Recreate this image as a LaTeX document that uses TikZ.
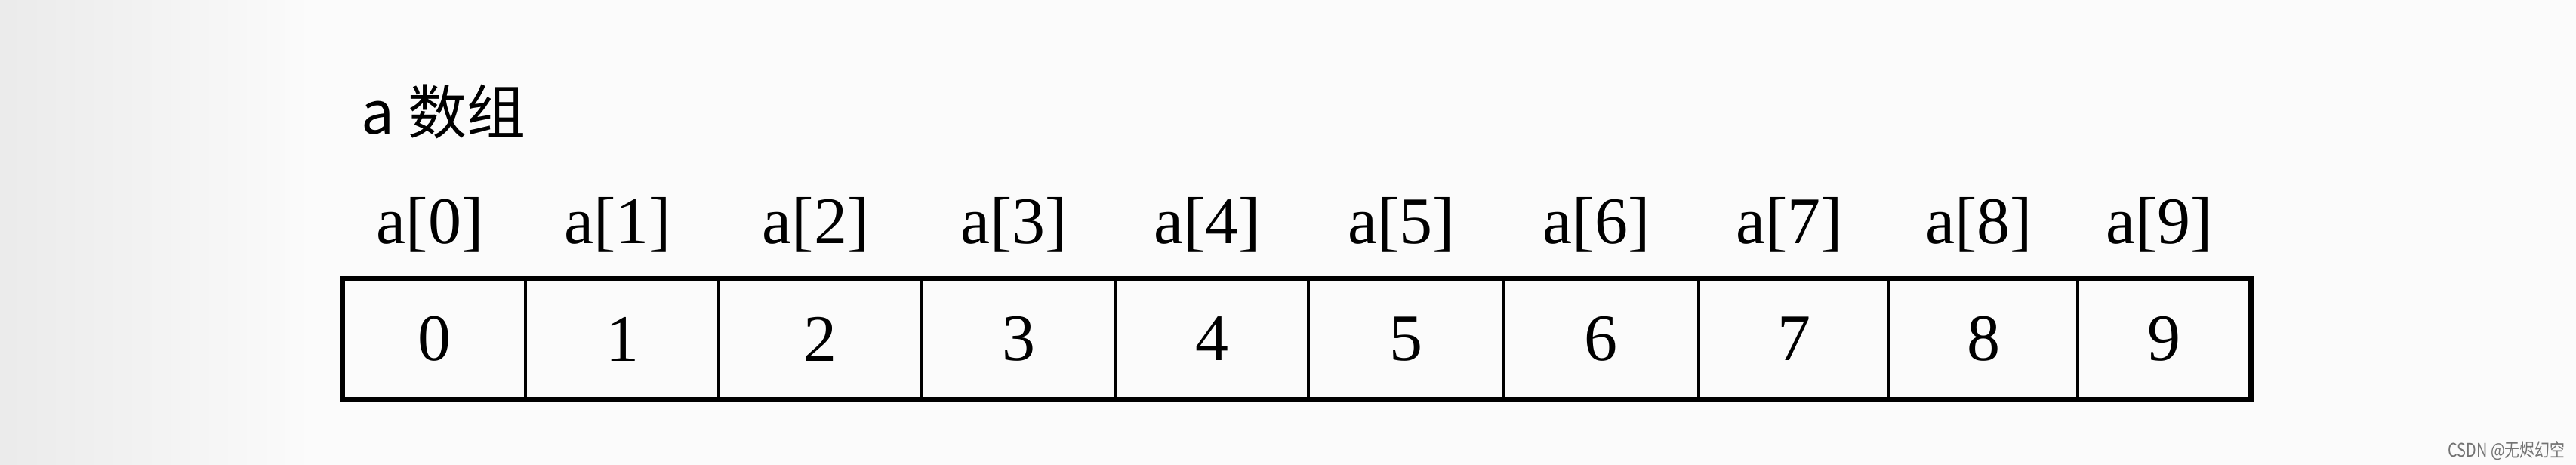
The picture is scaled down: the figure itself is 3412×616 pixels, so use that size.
\documentclass[tikz,border=0pt]{standalone}
\usepackage{fontspec}
\setmainfont{Liberation Serif}
\newfontfamily\cjk{Noto Sans CJK SC}
\begin{document}
\begin{tikzpicture}[x=0.25pt,y=-0.25pt,
  cellbox/.style={draw=black, line width=1.1pt, inner sep=0pt, anchor=center,
    font=\fontsize{22}{26}\selectfont},
  idxlabel/.style={anchor=base, inner sep=0pt, font=\fontsize{22}{26}\selectfont},
  outerbox/.style={draw=black, line width=1.6pt},
  titletext/.style={anchor=base west, inner sep=0pt, font=\cjk\fontsize{19.5}{24}\selectfont},
  wmtext/.style={anchor=base east, inner sep=0pt, text=black!55, font=\cjk\fontsize{6.2}{8}\selectfont}]
\fill[black!1.5] (0,0) rectangle (3412,616);
\shade[left color=black!8, right color=black!1.5] (0,0) rectangle (420,616);
\useasboundingbox (0,0) rectangle (3412,616);
\node[titletext] (title) at (478,178) {a 数组};
\foreach \i/\l/\r in {0/455/696,1/696/952,2/952/1221,3/1221/1477,4/1477/1733,5/1733/1991,6/1991/2250,7/2250/2502,8/2502/2752,9/2752/2980}{
  \node[cellbox, minimum width={(\r-\l)*0.25pt}, minimum height={158*0.25pt}]
    (c\i) at ({(\l+\r)/2},449) {\raisebox{-1.2pt}{\i}};
  \node[idxlabel] (l\i) at ({(\l+\r)/2-6},323) {a[\i]};
}
\draw[outerbox] (c0.north west) rectangle (c9.south east);
\node[wmtext] (wm) at (3398,606) {\scalebox{0.8}[1]{CSDN @无烬幻空}};
\end{tikzpicture}
\end{document}
